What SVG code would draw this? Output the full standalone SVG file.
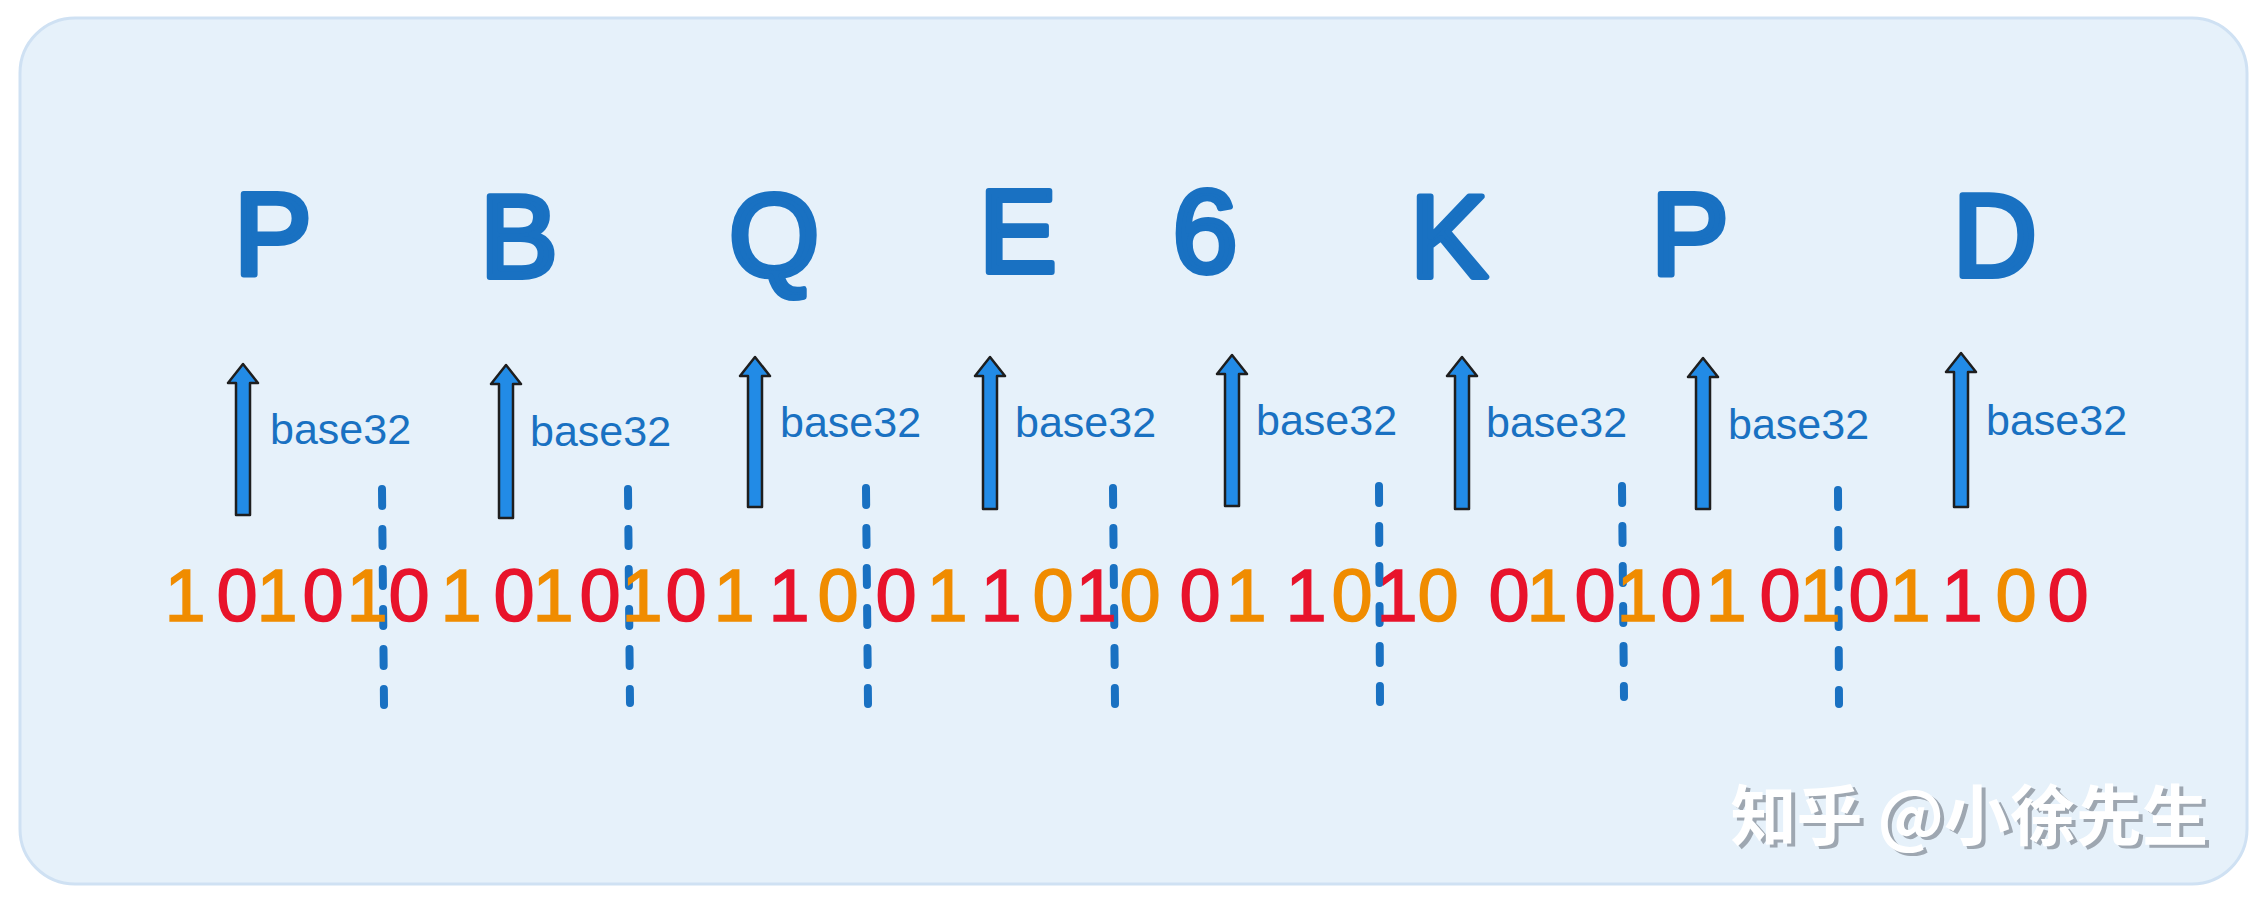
<svg xmlns="http://www.w3.org/2000/svg" width="2266" height="905" viewBox="0 0 2266 905">
<style>
.panel{fill:#e6f1fa;stroke:#cfe1f3;stroke-width:3}
.ch{font-family:"Liberation Sans",Arial,sans-serif;font-size:116px;fill:#1971c2;stroke:#1971c2;stroke-width:6;stroke-linejoin:round;text-anchor:middle}
.arr{fill:#228be6;stroke:#1e1e1e;stroke-width:2.5;stroke-linejoin:round}
.lbl{font-family:"Liberation Sans",Arial,sans-serif;font-size:43px;fill:#1971c2}
.div{stroke:#1971c2;stroke-width:8;stroke-linecap:round;stroke-dasharray:17 23;fill:none}
.d{font-family:"Liberation Sans",Arial,sans-serif;font-size:74px;text-anchor:middle;stroke-width:1.5}
.o{fill:#f08c00;stroke:#f08c00}
.r{fill:#e8132b;stroke:#e8132b}
.wm{font-family:"Noto Sans CJK SC","Liberation Sans",sans-serif;font-size:66px;font-weight:bold;text-anchor:end}
</style>
<rect x="0" y="0" width="2266" height="905" fill="#ffffff"/>
<rect class="panel" x="20" y="18" width="2227" height="866" rx="55" ry="55"/>

<g id="chars">
<g id="c1"><text class="ch" x="273" y="274">P</text></g>
<g id="c2"><text class="ch" x="519" y="277">B</text></g>
<g id="c3"><text class="ch" x="774" y="276">Q</text></g>
<g id="c4"><text class="ch" x="1018" y="272">E</text></g>
<g id="c5"><text class="ch" x="1205" y="272">6</text></g>
<g id="c6"><text class="ch" x="1449" y="277">K</text></g>
<g id="c7"><text class="ch" x="1690" y="274">P</text></g>
<g id="c8"><text class="ch" x="1995" y="276">D</text></g>
</g>

<g id="connectors">
<g id="a1"><path class="arr" d="M243 364 L258 383 L250 383 L250 515 L236 515 L236 383 L228 383 Z"/><text class="lbl" x="270" y="444">base32</text></g>
<g id="a2"><path class="arr" d="M506 365 L521 384 L513 384 L513 518 L499 518 L499 384 L491 384 Z"/><text class="lbl" x="530" y="446">base32</text></g>
<g id="a3"><path class="arr" d="M755 357 L770 376 L762 376 L762 507 L748 507 L748 376 L740 376 Z"/><text class="lbl" x="780" y="437">base32</text></g>
<g id="a4"><path class="arr" d="M990 357 L1005 376 L997 376 L997 509 L983 509 L983 376 L975 376 Z"/><text class="lbl" x="1015" y="437">base32</text></g>
<g id="a5"><path class="arr" d="M1232 355 L1247 374 L1239 374 L1239 506 L1225 506 L1225 374 L1217 374 Z"/><text class="lbl" x="1256" y="435">base32</text></g>
<g id="a6"><path class="arr" d="M1462 357 L1477 376 L1469 376 L1469 509 L1455 509 L1455 376 L1447 376 Z"/><text class="lbl" x="1486" y="437">base32</text></g>
<g id="a7"><path class="arr" d="M1703 358 L1718 377 L1710 377 L1710 509 L1696 509 L1696 377 L1688 377 Z"/><text class="lbl" x="1728" y="439">base32</text></g>
<g id="a8"><path class="arr" d="M1961 353 L1976 372 L1968 372 L1968 507 L1954 507 L1954 372 L1946 372 Z"/><text class="lbl" x="1986" y="435">base32</text></g>
</g>

<g id="dividers">
<path class="div" d="M382 489 L384 705"/>
<path class="div" d="M628 489 L630 703"/>
<path class="div" d="M866 488 L868 704"/>
<path class="div" d="M1113 488 L1115 704"/>
<path class="div" d="M1379 486 L1380 702"/>
<path class="div" d="M1622 486 L1624 697"/>
<path class="div" d="M1838 490 L1839 704"/>
</g>

<g id="bits">
<text class="d o" x="185" y="621">1</text>
<text class="d r" x="237" y="621">0</text>
<text class="d o" x="277" y="621">1</text>
<text class="d r" x="323" y="621">0</text>
<text class="d o" x="367" y="621">1</text>
<text class="d r" x="409" y="621">0</text>
<text class="d o" x="461" y="621">1</text>
<text class="d r" x="514" y="621">0</text>
<text class="d o" x="553" y="621">1</text>
<text class="d r" x="600" y="621">0</text>
<text class="d o" x="642" y="621">1</text>
<text class="d r" x="686" y="621">0</text>
<text class="d o" x="734" y="621">1</text>
<text class="d r" x="789" y="621">1</text>
<text class="d o" x="838" y="621">0</text>
<text class="d r" x="896" y="621">0</text>
<text class="d o" x="947" y="621">1</text>
<text class="d r" x="1001" y="621">1</text>
<text class="d o" x="1053" y="621">0</text>
<text class="d r" x="1096" y="621">1</text>
<text class="d o" x="1140" y="621">0</text>
<text class="d r" x="1200" y="621">0</text>
<text class="d o" x="1246" y="621">1</text>
<text class="d r" x="1306" y="621">1</text>
<text class="d o" x="1352" y="621">0</text>
<text class="d r" x="1397" y="621">1</text>
<text class="d o" x="1438" y="621">0</text>
<text class="d r" x="1509" y="621">0</text>
<text class="d o" x="1547" y="621">1</text>
<text class="d r" x="1595" y="621">0</text>
<text class="d o" x="1637" y="621">1</text>
<text class="d r" x="1681" y="621">0</text>
<text class="d o" x="1726" y="621">1</text>
<text class="d r" x="1780" y="621">0</text>
<text class="d o" x="1820" y="621">1</text>
<text class="d r" x="1869" y="621">0</text>
<text class="d o" x="1910" y="621">1</text>
<text class="d r" x="1962" y="621">1</text>
<text class="d o" x="2016" y="621">0</text>
<text class="d r" x="2068" y="621">0</text>
</g>

<g id="watermark">
<text class="wm" x="2212" y="843" fill="#9ea7b1">知乎 @小徐先生</text>
<text class="wm" x="2208" y="840" fill="#ffffff">知乎 @小徐先生</text>
</g>
</svg>
